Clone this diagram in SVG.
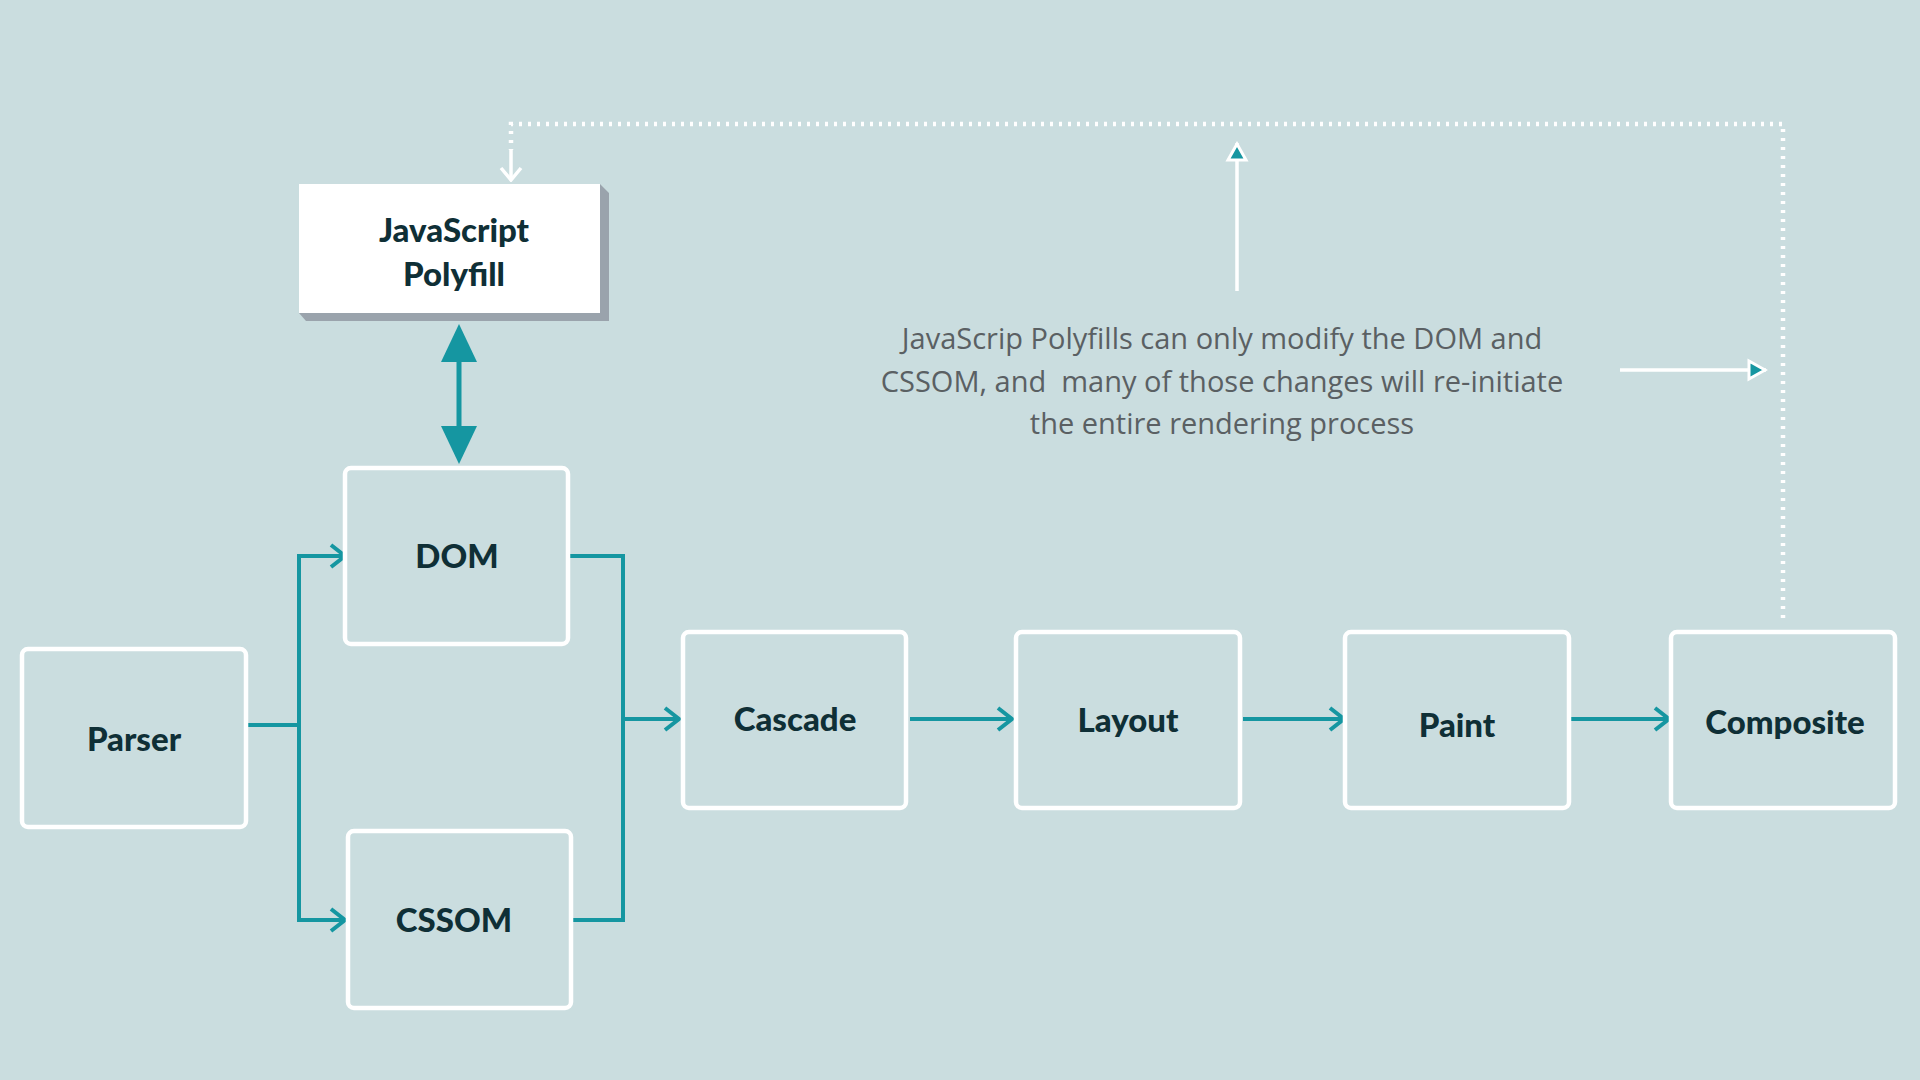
<svg xmlns="http://www.w3.org/2000/svg" width="1920" height="1080" viewBox="0 0 1920 1080">
<style>
.box{fill:none;stroke:#fff;stroke-width:4.5}
.lbl{font-family:Lato,"Open Sans",sans-serif;font-weight:900;font-size:33px;fill:#0f2f36;text-anchor:middle}
.c{fill:none;stroke:#1596a1;stroke-width:4}
.w{fill:none;stroke:#fff;stroke-width:3.5}
.note{font-family:"Open Sans",Lato,sans-serif;font-size:29px;fill:#5a6063;text-anchor:middle}
</style>
<defs>
<marker id="oa" viewBox="0 0 18 26" refX="16" refY="13" markerWidth="18" markerHeight="26" markerUnits="userSpaceOnUse" orient="auto"><path d="M2,2 L16,13 L2,24" fill="none" stroke="#1596a1" stroke-width="4"/></marker>
<marker id="wa" viewBox="0 0 16 24" refX="14" refY="12" markerWidth="16" markerHeight="24" markerUnits="userSpaceOnUse" orient="auto"><path d="M2,2 L14,12 L2,22" fill="none" stroke="#fff" stroke-width="3.5"/></marker>
<marker id="ta" viewBox="0 0 22 24" refX="20" refY="12" markerWidth="22" markerHeight="24" markerUnits="userSpaceOnUse" orient="auto"><path d="M3,3 L19,12 L3,21 Z" fill="#1596a1" stroke="#fff" stroke-width="3"/></marker>
<marker id="fa" viewBox="0 0 40 36" refX="38" refY="18" markerWidth="40" markerHeight="36" markerUnits="userSpaceOnUse" orient="auto"><path d="M0,0 L38,18 L0,36 Z" fill="#1596a1"/></marker>
</defs>
<rect width="1920" height="1080" fill="#cadddf"/>
<g id="connectors">
<polyline class="c" points="248,725 299,725"/>
<polyline class="c" points="345,556 299,556 299,920 345,920" marker-end="url(#oa)"/>
<line class="c" x1="299" y1="556" x2="345" y2="556" marker-end="url(#oa)"/>
<polyline class="c" points="570,556 623,556 623,920 573,920"/>
<line class="c" x1="623" y1="719" x2="679" y2="719" marker-end="url(#oa)"/>
<line class="c" x1="910" y1="719" x2="1012" y2="719" marker-end="url(#oa)"/>
<line class="c" x1="1243" y1="719" x2="1344" y2="719" marker-end="url(#oa)"/>
<line class="c" x1="1569" y1="719" x2="1669" y2="719" marker-end="url(#oa)"/>
<line stroke="#1596a1" stroke-width="5" x1="459" y1="360" x2="459" y2="430"/>
<line stroke="none" x1="459" y1="360" x2="459" y2="324" marker-end="url(#fa)"/>
<line stroke="none" x1="459" y1="430" x2="459" y2="464" marker-end="url(#fa)"/>
<polyline fill="none" stroke="#fff" stroke-width="4.5" stroke-dasharray="3,6" points="1783,618 1783,124 511,124 511,150"/>
<line class="w" x1="511" y1="150" x2="511" y2="180" marker-end="url(#wa)"/>
<line class="w" x1="1237" y1="291" x2="1237" y2="143" marker-end="url(#ta)"/>
<line class="w" x1="1620" y1="370" x2="1766" y2="370" marker-end="url(#ta)"/>
</g>
<g id="polyfill">
<path d="M299,313 L306,321 L609,321 L609,193 L600,184 L600,313 Z" fill="#9aa3ac"/>
<rect x="299" y="184" width="301" height="129" fill="#fff"/>
<text class="lbl" x="454" y="242">JavaScript</text>
<text class="lbl" x="454" y="286">Polyfill</text>
</g>
<g id="parser"><rect class="box" x="22" y="649" width="224" height="178" rx="6"/><text class="lbl" x="134" y="751">Parser</text></g>
<g id="dom"><rect class="box" x="345" y="468" width="223" height="176" rx="6"/><text class="lbl" x="457" y="568">DOM</text></g>
<g id="cssom"><rect class="box" x="348" y="831" width="223" height="177" rx="6"/><text class="lbl" x="454" y="932">CSSOM</text></g>
<g id="cascade"><rect class="box" x="683" y="632" width="223" height="176" rx="6"/><text class="lbl" x="795" y="731">Cascade</text></g>
<g id="layout"><rect class="box" x="1016" y="632" width="224" height="176" rx="6"/><text class="lbl" x="1128" y="732">Layout</text></g>
<g id="paint"><rect class="box" x="1345" y="632" width="224" height="176" rx="6"/><text class="lbl" x="1457" y="737">Paint</text></g>
<g id="composite"><rect class="box" x="1671" y="632" width="224" height="176" rx="6"/><text class="lbl" x="1785" y="734">Composite</text></g>
<g id="note">
<text class="note" x="1222" y="349">JavaScrip Polyfills can only modify the DOM and</text>
<text class="note" x="1222" y="392">CSSOM, and&#160; many of those changes will re-initiate</text>
<text class="note" x="1222" y="434">the entire rendering process</text>
</g>
</svg>
